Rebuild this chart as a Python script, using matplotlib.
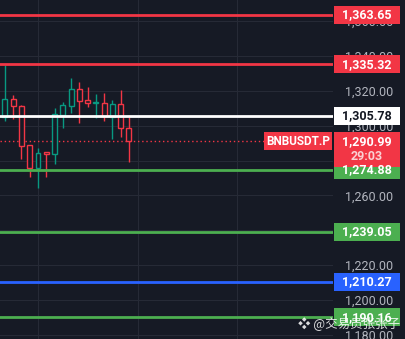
import matplotlib.pyplot as plt
from matplotlib.patches import Rectangle
from matplotlib.ticker import FuncFormatter

# candles (open, high, low, close)
opens  = [1305.2, 1315.2, 1311.4, 1289.0, 1275.6, 1284.8, 1283.7, 1306.2,
          1311.6, 1321.1, 1314.8, 1313.0, 1313.3, 1305.2, 1312.5, 1298.7]
highs  = [1334.9, 1317.7, 1312.0, 1289.0, 1287.1, 1284.8, 1310.1, 1313.9,
          1327.6, 1325.3, 1322.5, 1318.0, 1319.0, 1314.8, 1320.6, 1305.2]
lows   = [1302.9, 1303.8, 1280.8, 1270.8, 1264.1, 1270.8, 1278.1, 1298.9,
          1307.5, 1301.8, 1310.6, 1304.3, 1303.0, 1292.3, 1293.4, 1279.4]
closes = [1315.2, 1311.4, 1288.6, 1275.6, 1284.6, 1283.7, 1306.6, 1312.0,
          1321.0, 1314.4, 1312.9, 1313.3, 1305.6, 1312.5, 1298.7, 1290.99]

# horizontal levels
levels = [1363.65, 1335.32, 1305.78, 1274.88, 1239.05, 1210.27, 1190.16]
level_colors = ['#f23645', '#f23645', '#ffffff', '#4caf50', '#4caf50', '#2962ff', '#4caf50']
level_text = ['#ffffff', '#ffffff', '#131722', '#ffffff', '#ffffff', '#ffffff', '#ffffff']
last_price = 1290.99
countdown = '29:03'
symbol = 'BNBUSDT.P'
yticks = [1180, 1200, 1220, 1240, 1260, 1280, 1300, 1320, 1340, 1360]

bg = '#161a25'
up, down = '#089981', '#f23645'

fig = plt.figure(figsize=(4.06, 3.39), dpi=100, facecolor=bg)
ax = fig.add_axes([0, 0, 333 / 406, 1])
ax.set_facecolor(bg)
ax.set_xlim(-0.6, 39.7)
ax.set_ylim(1177.6, 1372.2)

for i in range(len(opens)):
    o, h, l, c = opens[i], highs[i], lows[i], closes[i]
    col = up if c >= o else down
    top, bot = max(o, c), min(o, c)
    ax.vlines(i, top, h, color=col, lw=1, zorder=3)
    ax.vlines(i, l, bot, color=col, lw=1, zorder=3)
    ax.add_patch(Rectangle((i - 0.3, bot), 0.6, max(top - bot, 0.6),
                           facecolor=bg, edgecolor=col, lw=1, zorder=3))

# grid
ax.set_yticks(yticks)
ax.set_xticks([4, 16.05, 28.05])
ax.grid(color='#262a36', lw=0.8)
ax.set_axisbelow(True)
ax.xaxis.set_ticklabels([])
ax.tick_params(axis='x', length=0)
ax.yaxis.tick_right()
ax.tick_params(axis='y', length=0, pad=8.5, labelcolor='#b2b5be', labelsize=9)
ax.yaxis.set_major_formatter(FuncFormatter(lambda v, p: f'{v:,.2f}'))
for lab in ax.get_yticklabels():
    lab.set_fontfamily('Roboto')
for s in ax.spines.values():
    s.set_visible(False)

# price line
ax.axhline(last_price, color=down, lw=1, ls=(0, (1, 2)), zorder=2)

trans = ax.get_yaxis_transform()
bw = 66 / 333
bx = 334 / 333
hh = 9 / 1.742

for lv, col, tc in zip(levels, level_colors, level_text):
    ax.axhline(lv, color=col, lw=2, zorder=4)
    ax.add_patch(Rectangle((bx, lv - hh), bw, 2 * hh, transform=trans,
                           facecolor=col, edgecolor='none', clip_on=False, zorder=6))
    ax.text(bx + bw / 2, lv, f'{lv:,.2f}', transform=trans, ha='center', va='center',
            color=tc, fontsize=9, family='Roboto', weight='bold', zorder=7, clip_on=False)

# last price box with countdown
ax.add_patch(Rectangle((bx, last_price - 26 / 1.742), bw, 35 / 1.742, transform=trans,
                       facecolor=down, edgecolor='none', clip_on=False, zorder=6))
ax.text(bx + bw / 2, last_price, f'{last_price:,.2f}', transform=trans, ha='center',
        va='center', color='white', fontsize=9, family='Roboto', weight='bold', zorder=7)
ax.text(bx + bw / 2, last_price - 15 / 1.742, countdown, transform=trans, ha='center',
        va='center', color='#fbd0d3', fontsize=9, family='Roboto', weight='bold', zorder=7)

# symbol label
ax.add_patch(Rectangle((264 / 333, last_price - hh), 68 / 333, 2 * hh, transform=trans,
                       facecolor=down, edgecolor='none', clip_on=False, zorder=6))
ax.text(298 / 333, last_price, symbol, transform=trans, ha='center', va='center',
        color='white', fontsize=8.5, family='Roboto', weight='bold', zorder=7)

# watermark
fig.text(0.735, 0.048, '❖ @交易员张张子', color='white', alpha=0.85, fontsize=9,
         family=['Noto Sans CJK SC', 'DejaVu Sans'], ha='left', va='center', zorder=10)

fig.savefig('out.png', dpi=100, facecolor=bg)
